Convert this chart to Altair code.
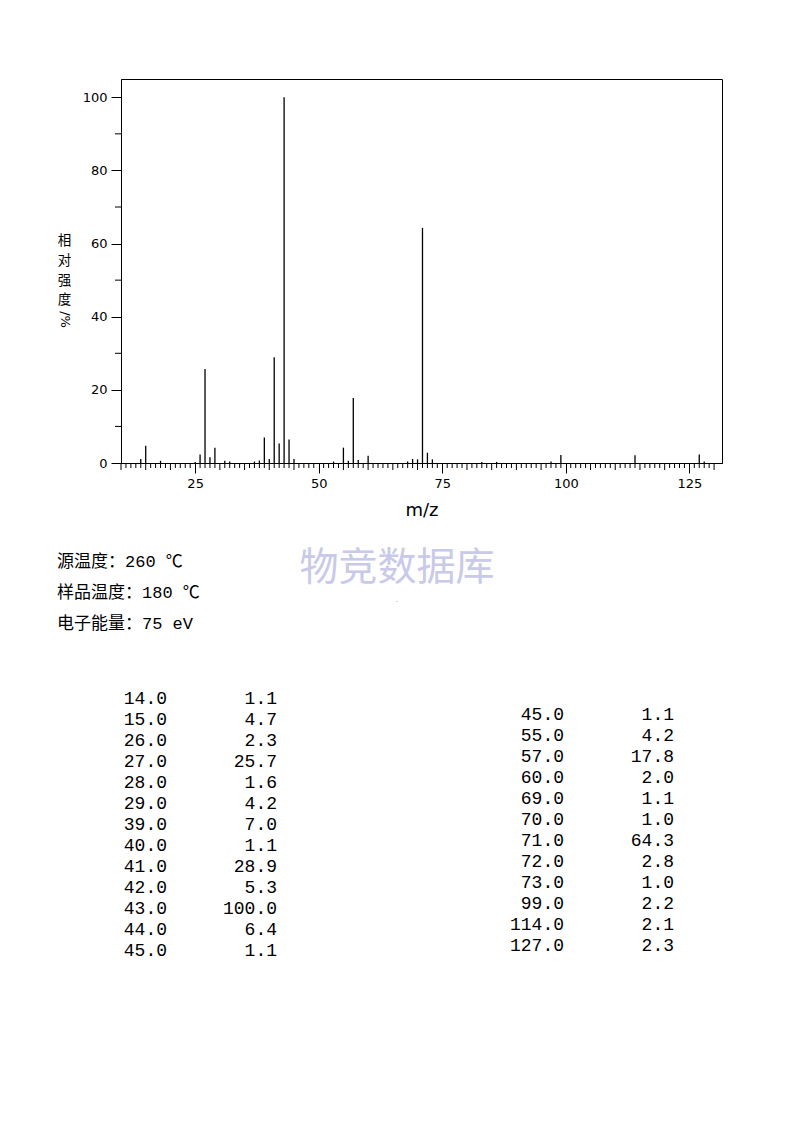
import altair as alt
import pandas as pd

# ---- spectrum peaks (m/z, relative intensity %) ----
mz = [14, 15, 18, 25, 26, 27, 28, 29, 31, 32, 37, 38, 39, 40, 41, 42, 43, 44, 45,
      53, 55, 56, 57, 58, 60, 68, 69, 70, 71, 72, 73, 83, 86, 97, 99, 114, 127, 128]
intensity = [1.1, 4.7, 0.6, 0.3, 2.3, 25.7, 1.6, 4.2, 0.6, 0.4, 0.4, 0.7, 7.0, 1.1, 28.9, 5.3, 100.0, 6.4, 1.1,
             0.4, 4.2, 0.6, 17.8, 0.8, 2.0, 0.4, 1.1, 1.0, 64.3, 2.8, 1.0, 0.3, 0.3, 0.4, 2.2, 2.1, 2.3, 0.4]

# ---- axis tick values ----
x_major = [25, 50, 75, 100, 125]
x_mid = [v for v in range(10, 131, 5) if v % 25 != 0]
x_minor = [v for v in range(10, 131) if v % 5 != 0]
y_major = [0, 20, 40, 60, 80, 100]
y_minor = [10, 30, 50, 70, 90]

# ---- text content ----
x_title = "m/z"
y_title_chars = ["相", "对", "强", "度"]
y_title_tail = "/%"
info_lines = ["源温度：260 ℃", "样品温度：180 ℃", "电子能量：75 eV"]
watermark = ["物竞数据库"]

table_left_mz = [14.0, 15.0, 26.0, 27.0, 28.0, 29.0, 39.0, 40.0, 41.0, 42.0, 43.0, 44.0, 45.0]
table_left_int = [1.1, 4.7, 2.3, 25.7, 1.6, 4.2, 7.0, 1.1, 28.9, 5.3, 100.0, 6.4, 1.1]
table_right_mz = [45.0, 55.0, 57.0, 60.0, 69.0, 70.0, 71.0, 72.0, 73.0, 99.0, 114.0, 127.0]
table_right_int = [1.1, 4.2, 17.8, 2.0, 1.1, 1.0, 64.3, 2.8, 1.0, 2.2, 2.1, 2.3]

W, H = 601, 384
xs = alt.Scale(domain=[10, 131.6], nice=False, zero=False)
ys = alt.Scale(domain=[0, 105], nice=False, zero=True)
xaxis = alt.Axis(values=x_major, tickSize=10, title=x_title, labelPadding=4,
                 titlePadding=11, titleFontSize=18, titleFontWeight="normal",
                 titleFont="DejaVu Sans", format="d")
yaxis = alt.Axis(values=y_major, tickSize=10, title=None, labelPadding=4, format="d")


def X(f):
    return alt.X(f, type="quantitative", scale=xs, axis=xaxis)


def Y(f):
    return alt.Y(f, type="quantitative", scale=ys, axis=yaxis)


peaks = pd.DataFrame({"mz": mz, "int": intensity})
bars = alt.Chart(peaks).mark_rule(color="black", strokeWidth=1.3).encode(
    x=X("mz"), y=Y("int"), y2=alt.datum(0)
)

minor_df = pd.DataFrame({"t": x_minor})
mid_df = pd.DataFrame({"t": x_mid})
minor_ticks = alt.Chart(minor_df).mark_rule(color="black", strokeWidth=1).encode(
    x=X("t"), y=alt.value(H), y2=alt.value(H + 5)
)
mid_ticks = alt.Chart(mid_df).mark_rule(color="black", strokeWidth=1).encode(
    x=X("t"), y=alt.value(H), y2=alt.value(H + 7)
)
ymin_df = pd.DataFrame({"v": y_minor})
y_minor_ticks = alt.Chart(ymin_df).mark_rule(color="black", strokeWidth=1).encode(
    y=Y("v"), x=alt.value(-6), x2=alt.value(0)
)

# y title: stacked characters
yt = pd.DataFrame({"c": y_title_chars, "i": list(range(len(y_title_chars)))})
ytitle = alt.Chart(yt).mark_text(font="Noto Sans CJK SC", fontSize=13.5, color="black",
                                 baseline="middle", align="center").transform_calculate(
    py="162.4 + 19.6*datum.i"
).encode(
    x=alt.value(-56.5),
    y=alt.Y("py:Q", scale=None, axis=None),
    text="c:N",
)
ytail = alt.Chart(pd.DataFrame({"c": [y_title_tail]})).mark_text(
    font="DejaVu Sans", fontSize=13, color="black", angle=90,
    baseline="middle", align="center"
).encode(x=alt.value(-56.5), y=alt.value(240.5), text="c:N")

# info lines below the chart
info = pd.DataFrame({"s": info_lines, "i": list(range(len(info_lines)))})
info_text = alt.Chart(info).mark_text(
    font="Liberation Mono, Noto Sans CJK SC", fontSize=17, color="black",
    align="left", baseline="middle"
).transform_calculate(py="483 + 31*datum.i").encode(
    x=alt.value(-64),
    y=alt.Y("py:Q", scale=None, axis=None),
    text="s:N",
)

wm = alt.Chart(pd.DataFrame({"s": watermark})).mark_text(
    font="Noto Sans CJK SC", fontSize=39, color="#c9c9e9",
    align="center", baseline="middle"
).encode(x=alt.value(276), y=alt.value(489), text="s:N")

dot = alt.Chart(pd.DataFrame({"s": ["."]})).mark_text(
    font="DejaVu Sans", fontSize=6, color="#555555", align="center", baseline="middle"
).encode(x=alt.value(276), y=alt.value(521), text="s:N")


def table_layer(vals, x0, y0):
    df = pd.DataFrame({"v": vals, "i": list(range(len(vals)))})
    return alt.Chart(df).mark_text(
        font="Liberation Mono", fontSize=18, color="black", align="right", baseline="middle"
    ).transform_calculate(
        py=f"{y0} + 21*datum.i", s="format(datum.v, '.1f')"
    ).encode(
        x=alt.value(x0),
        y=alt.Y("py:Q", scale=None, axis=None),
        text="s:N",
    )


t1 = table_layer(table_left_mz, 46, 620)
t2 = table_layer(table_left_int, 156, 620)
t3 = table_layer(table_right_mz, 443, 636)
t4 = table_layer(table_right_int, 553, 636)

chart = alt.layer(
    minor_ticks, mid_ticks, y_minor_ticks, bars, ytitle, ytail,
    info_text, wm, dot, t1, t2, t3, t4
).properties(
    width=W, height=H,
    autosize=alt.AutoSizeParams(type="none"),
    padding={"left": 113, "top": 71, "right": 64, "bottom": 640},
).configure_view(
    stroke="black", strokeWidth=1
).configure_axis(
    grid=False, domainColor="black", domainWidth=1, tickColor="black", tickWidth=1,
    labelColor="black", titleColor="black", labelFont="DejaVu Sans", labelFontSize=13,
)

chart.save("out.html", embed_options={"renderer": "svg", "actions": False})
